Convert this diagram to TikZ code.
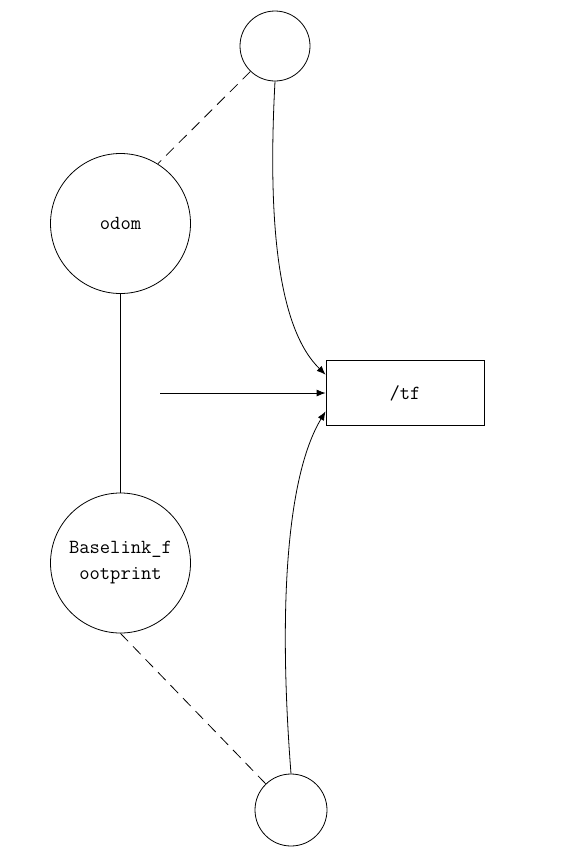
\documentclass[tikz,border=0pt]{standalone}
\usepackage{tikz}
\usetikzlibrary{arrows.meta, positioning}

\begin{document}
\begin{tikzpicture}[x=1pt,y=-1pt,
  every node/.style={font=\ttfamily\fontsize{20}{26}\selectfont},
  frame/.style={draw,circle,inner sep=0pt,line width=0.8pt},
  topic/.style={draw,rectangle,line width=0.8pt,minimum width=158pt,minimum height=65pt},
  link/.style={line width=0.8pt},
  tfarrow/.style={line width=0.8pt,-{Latex[length=9pt,width=7pt]}},
  static/.style={line width=0.8pt,dash pattern=on 11pt off 7pt}]
\useasboundingbox (0,0) rectangle (569,860);
% TF tree
\node[frame,minimum size=70pt] (topc) at (275,46) {};
\node[frame,minimum size=140pt] (odom) at (120.5,223.5) {odom};
\node[frame,minimum size=140pt,align=center] (base) at (120.5,563) {Baselink\_f\\ootprint};
\node[frame,minimum size=72pt] (botc) at (291,810) {};
\node[topic] (tf) at (405,393) {/tf};
\coordinate (src) at (160,393);

\draw[static] (topc.226) -- (odom.58);
\draw[link] (odom.south) -- (base.north);
\draw[static] (base.south) -- (botc.134);

\draw[tfarrow] (src) -- (tf.west);
\draw[tfarrow] (topc.south) .. controls +(-8,148) and +(-46,-45) .. (tf.167);
\draw[tfarrow] (botc.north) .. controls +(-12,-154) and +(-41,68) .. (tf.-167);
\end{tikzpicture}
\end{document}
